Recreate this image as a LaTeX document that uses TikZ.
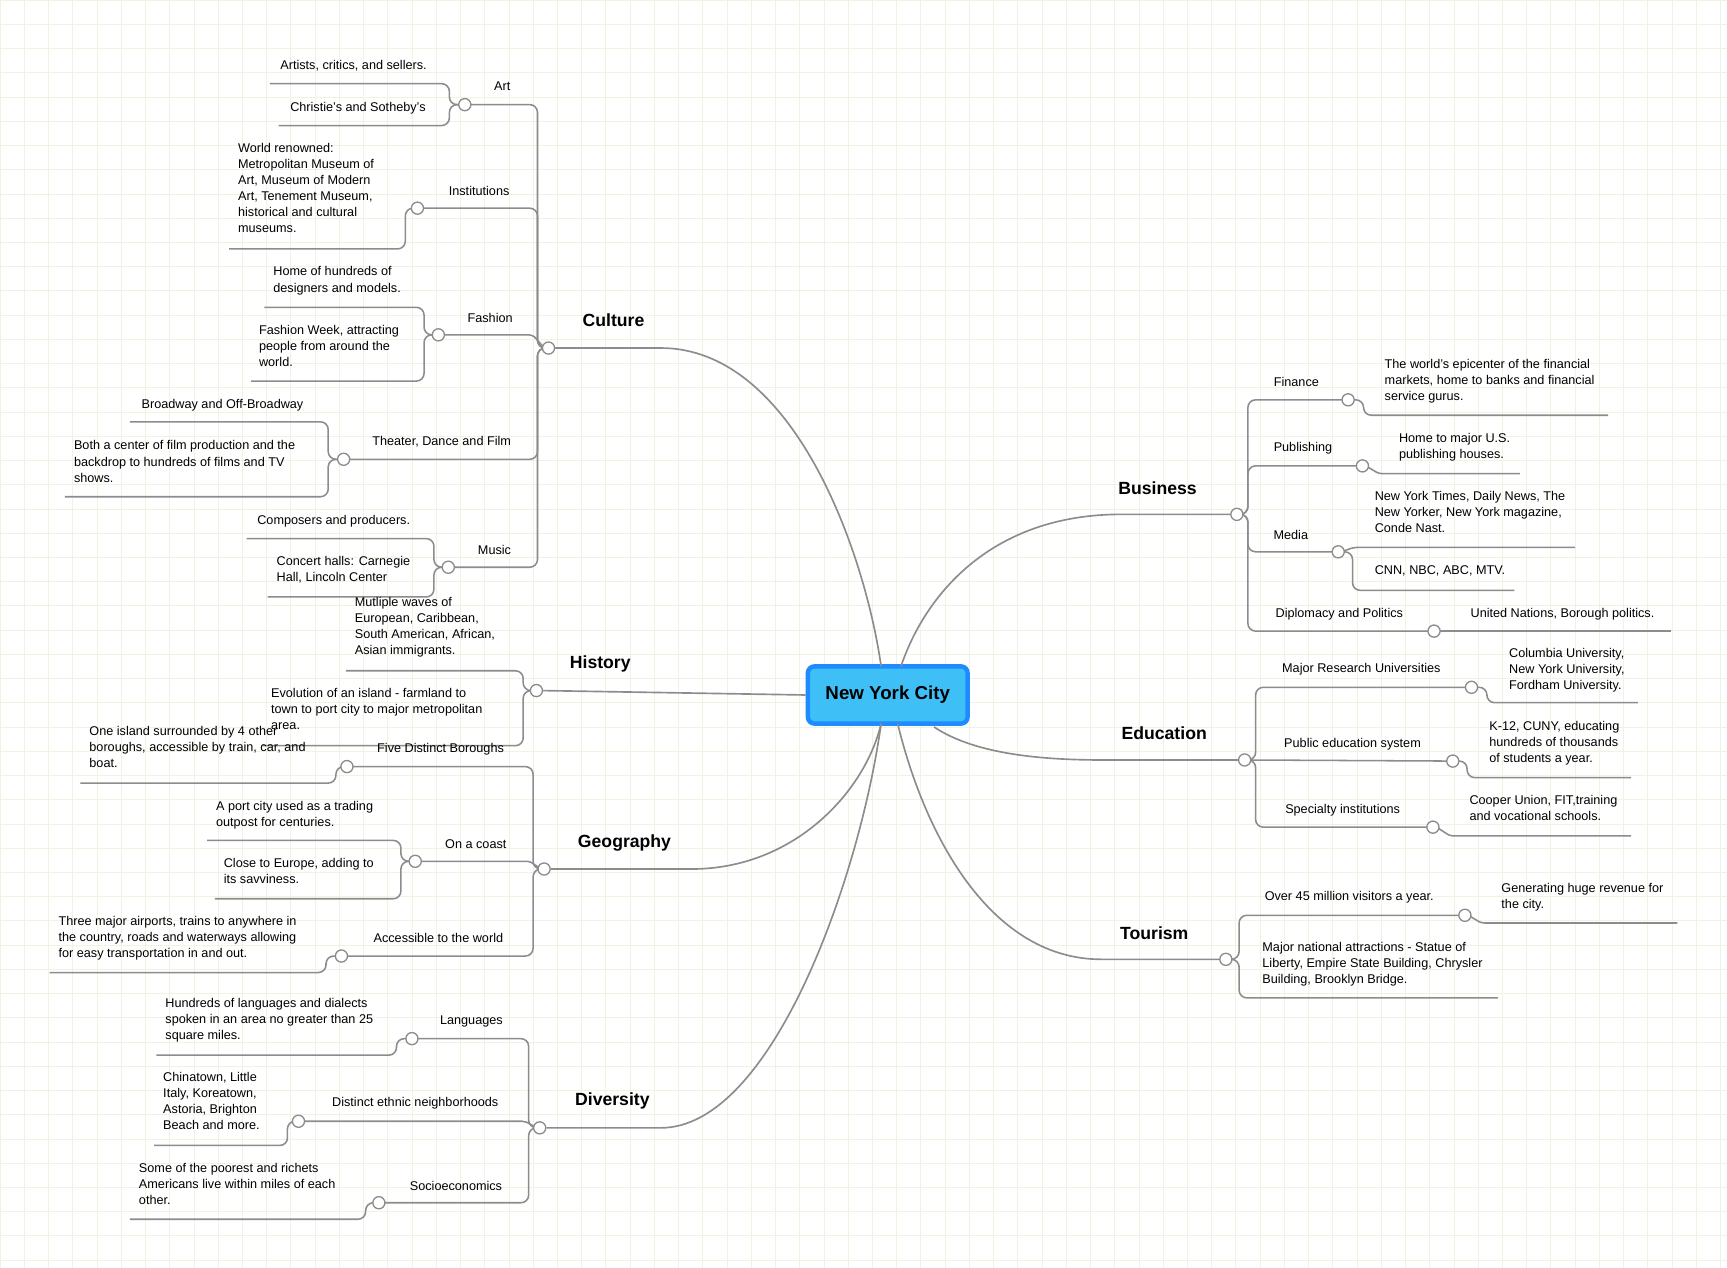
\documentclass[tikz,border=0pt]{standalone}
\usepackage{fontspec}
\setmainfont{Liberation Sans}
\definecolor{cgray}{HTML}{8C8C8C}
\definecolor{gridc}{HTML}{EEF3E2}
\definecolor{boxfill}{HTML}{3EC0F7}
\definecolor{boxdraw}{HTML}{1E8BFF}
\pgfdeclarelayer{bg}
\pgfsetlayers{bg,main}
\tikzset{
 conn/.style={draw=cgray,line width=1.4pt,rounded corners=7pt},
 sconn/.style={draw=cgray,line width=1.4pt},
 mconn/.style={draw=cgray,line width=1.5pt},
 dot/.style={circle,draw=cgray,fill=white,line width=1.2pt,minimum size=11pt,inner sep=0pt},
 lbl/.style={font=\fontsize{11.5}{14.6}\selectfont,inner sep=0pt},
 leaf/.style={lbl,align=left,anchor=north west},
 mainlbl/.style={font=\fontsize{16}{19}\selectfont\bfseries,inner sep=0pt}
}
\newcommand{\Lbr}[4]{\begin{pgfonlayer}{bg}\draw[conn] (#1.center) -| (#2,#3) -- (#4,#3);\end{pgfonlayer}}
\newcommand{\Lbn}[4]{\begin{pgfonlayer}{bg}\draw[conn] (#1.center) -| (#2,#3) -- (#4.center);\end{pgfonlayer}}
% smooth S-curve variants for small offsets: #5 out angle, #6 in angle
\newcommand{\Sbr}[6]{\begin{pgfonlayer}{bg}\draw[sconn] (#1.center) to[out=#5,in=#6] (#2,#3) -- (#4,#3);\end{pgfonlayer}}
\newcommand{\Sbn}[6]{\begin{pgfonlayer}{bg}\draw[sconn] (#1.center) to[out=#5,in=#6] (#2,#3) -- (#4.center);\end{pgfonlayer}}
\begin{document}
\begin{tikzpicture}[x=1pt,y=-1pt]
\useasboundingbox (0,0) rectangle (1568,1151);
\begin{pgfonlayer}{bg}
\fill[white] (0,0) rectangle (1568,1151);
\foreach \i in {0,22,...,1568} \draw[gridc,line width=0.6pt] (\i,0) -- (\i,1151);
\foreach \j in {0,22,...,1151} \draw[gridc,line width=0.6pt] (0,\j) -- (1568,\j);
\end{pgfonlayer}

\node[draw=boxdraw,fill=boxfill,line width=4pt,rounded corners=6pt,minimum width=145pt,minimum height=52pt,font=\fontsize{17}{20}\selectfont\bfseries] (nyc) at (806,631) {New York City};

% ---------- Culture
\node[mainlbl] (cult) at (557,291) {Culture};
\node[dot] (hc) at (498,316) {};
\draw[mconn] (hc.east) -- (600,316) .. controls (720,316) and (785,500) .. (800,605);
\node[dot] (cart) at (422,95) {};
\node[lbl] (tart) at (456,78) {Art};
\Lbn{hc}{488}{95}{cart}
\node[lbl] (t1) at (321,60) {Artists, critics, and sellers.};
\Lbr{cart}{408}{76}{245}
\node[lbl] (t2) at (325,98) {Christie's and Sotheby's};
\Lbr{cart}{408}{114}{253}
\node[dot] (cins) at (379,189) {};
\node[lbl] (tins) at (435,173) {Institutions};
\Lbn{hc}{488}{189}{cins}
\node[leaf] (t3) at (216,130) {World renowned:\\Metropolitan Museum of\\Art, Museum of Modern\\Art, Tenement Museum,\\historical and cultural\\museums.};
\Lbr{cins}{368}{226}{208}
\node[dot] (cfas) at (398,304) {};
\node[lbl] (tfas) at (445,289) {Fashion};
\Sbn{hc}{480}{304}{cfas}{180}{0}
\node[leaf] (t4) at (248,242) {Home of hundreds of\\designers and models.};
\Lbr{cfas}{385}{279}{240}
\node[leaf] (t5) at (235,295) {Fashion Week, attracting\\people from around the\\world.};
\Lbr{cfas}{385}{346}{228}
\node[dot] (cthe) at (312,417) {};
\node[lbl] (tthe) at (401,401) {Theater, Dance and Film};
\Lbn{hc}{488}{417}{cthe}
\node[lbl] (t6) at (202,368) {Broadway and Off-Broadway};
\Lbr{cthe}{298}{383}{118}
\node[leaf] (t7) at (67,400) {Both a center of film production and the\\backdrop to hundreds of films and TV\\shows.};
\Lbr{cthe}{298}{451}{59}
\node[dot] (cmus) at (407,515) {};
\node[lbl] (tmus) at (449,499) {Music};
\Lbn{hc}{488}{515}{cmus}
\node[lbl] (t8) at (303,473) {Composers and producers.};
\Lbr{cmus}{394}{489}{224}
\node[leaf] (t9) at (251,505) {Concert halls: Carnegie\\Hall, Lincoln Center};
\Lbr{cmus}{394}{542}{243}

% ---------- History
\node[mainlbl] (hist) at (545,603) {History};
\node[dot] (hh) at (487,627) {};
\draw[mconn] (hh.east) -- (nyc.west);
\node[leaf] (t10) at (322,542) {Mutliple waves of\\European, Caribbean,\\South American, African,\\Asian immigrants.};
\Lbr{hh}{475}{609}{314}
\node[leaf] (t11) at (246,625) {Evolution of an island - farmland to\\town to port city to major metropolitan\\area.};
\Lbr{hh}{475}{677}{238}

% ---------- Geography
\node[mainlbl] (geo) at (567,765) {Geography};
\node[dot] (hg) at (494,789) {};
\draw[mconn] (hg.east) -- (628,789) .. controls (720,789) and (785,720) .. (800,657);
\node[dot] (cfive) at (315,696) {};
\node[lbl] (tfive) at (400,680) {Five Distinct Boroughs};
\Lbn{hg}{484}{696}{cfive}
\node[leaf] (t12) at (81,659) {One island surrounded by 4 other\\boroughs, accessible by train, car, and\\boat.};
\Lbr{cfive}{305}{711}{73}
\node[dot] (ccoa) at (377,782) {};
\node[lbl] (tcoa) at (432,766) {On a coast};
\Sbn{hg}{478}{782}{ccoa}{180}{0}
\node[leaf] (t13) at (196,727) {A port city used as a trading\\outpost for centuries.};
\Lbr{ccoa}{364}{763}{188}
\node[leaf] (t14) at (203,779) {Close to Europe, adding to\\its savviness.};
\Lbr{ccoa}{364}{816}{195}
\node[dot] (cacc) at (310,868) {};
\node[lbl] (tacc) at (398,852) {Accessible to the world};
\Lbn{hg}{484}{868}{cacc}
\node[leaf] (t15) at (53,832) {Three major airports, trains to anywhere in\\the country, roads and waterways allowing\\for easy transportation in and out.};
\Lbr{cacc}{296}{883}{45}

% ---------- Diversity
\node[mainlbl] (div) at (556,1000) {Diversity};
\node[dot] (hd) at (490,1024) {};
\draw[mconn] (hd.east) -- (600,1024) .. controls (700,1024) and (780,800) .. (800,657);
\node[dot] (clan) at (374,943) {};
\node[lbl] (tlan) at (428,927) {Languages};
\Lbn{hd}{480}{943}{clan}
\node[leaf] (t16) at (150,906) {Hundreds of languages and dialects\\spoken in an area no greater than 25\\square miles.};
\Lbr{clan}{360}{958}{142}
\node[dot] (ceth) at (271,1018) {};
\node[lbl] (teth) at (377,1002) {Distinct ethnic neighborhoods};
\Sbn{hd}{474}{1018}{ceth}{180}{0}
\node[leaf] (t17) at (148,973) {Chinatown, Little\\Italy, Koreatown,\\Astoria, Brighton\\Beach and more.};
\Lbr{ceth}{261}{1040}{140}
\node[dot] (csoc) at (344,1092) {};
\node[lbl] (tsoc) at (414,1077) {Socioeconomics};
\Lbn{hd}{480}{1092}{csoc}
\node[leaf] (t18) at (126,1056) {Some of the poorest and richets\\Americans live within miles of each\\other.};
\Lbr{csoc}{332}{1107}{118}

% ---------- Business
\node[mainlbl] (bus) at (1051,443) {Business};
\node[dot] (hb) at (1123,467) {};
\draw[mconn] (hb.west) -- (1018,467) .. controls (900,467) and (840,540) .. (818,605);
\node[dot] (cfin) at (1224,363) {};
\node[lbl] (tfin) at (1177,347) {Finance};
\Lbn{hb}{1133}{363}{cfin}
\node[leaf] (t19) at (1257,326) {The world's epicenter of the financial\\markets, home to banks and financial\\service gurus.};
\Lbr{cfin}{1238}{377}{1460}
\node[dot] (cpub) at (1237,423) {};
\node[lbl] (tpub) at (1183,407) {Publishing};
\Lbn{hb}{1133}{423}{cpub}
\node[leaf] (t20) at (1270,393) {Home to major U.S.\\publishing houses.};
\Sbr{cpub}{1255}{430}{1380}{0}{180}
\node[dot] (cmed) at (1215,501) {};
\node[lbl] (tmed) at (1172,486) {Media};
\Lbn{hb}{1133}{501}{cmed}
\node[leaf] (t21) at (1248,446) {New York Times, Daily News, The\\New Yorker, New York magazine,\\Conde Nast.};
\Sbr{cmed}{1232}{497}{1430}{0}{180}
\node[leaf] (t22) at (1248,513) {CNN, NBC, ABC, MTV.};
\Lbr{cmed}{1228}{536}{1375}
\node[dot] (cdip) at (1302,573) {};
\node[lbl] (tdip) at (1216,558) {Diplomacy and Politics};
\Lbn{hb}{1133}{573}{cdip}
\node[leaf] (t23) at (1335,552) {United Nations, Borough politics.};
\begin{pgfonlayer}{bg}\draw[sconn] (cdip.center) -- (1517,573);\end{pgfonlayer}

% ---------- Education
\node[mainlbl] (edu) at (1057,666) {Education};
\node[dot] (he) at (1130,690) {};
\draw[mconn] (he.west) -- (1000,690) .. controls (920,690) and (875,678) .. (848,660);
\node[dot] (cmru) at (1336,624) {};
\node[lbl] (tmru) at (1236,608) {Major Research Universities};
\Lbn{he}{1140}{624}{cmru}
\node[leaf] (t24) at (1370,588) {Columbia University,\\New York University,\\Fordham University.};
\Lbr{cmru}{1350}{638}{1487}
\node[dot] (cpes) at (1319,691) {};
\node[lbl] (tpes) at (1228,676) {Public education system};
\begin{pgfonlayer}{bg}\draw[sconn] (he.center) -- (cpes.center);\end{pgfonlayer}
\node[leaf] (t25) at (1352,655) {K-12, CUNY, educating\\hundreds of thousands\\of students a year.};
\Lbr{cpes}{1332}{706}{1481}
\node[dot] (cspe) at (1301,751) {};
\node[lbl] (tspe) at (1219,736) {Specialty institutions};
\Lbn{he}{1140}{751}{cspe}
\node[leaf] (t26) at (1334,722) {Cooper Union, FIT,training\\and vocational schools.};
\Sbr{cspe}{1320}{759}{1481}{0}{180}

% ---------- Tourism
\node[mainlbl] (tou) at (1048,847) {Tourism};
\node[dot] (ht) at (1113,871) {};
\draw[mconn] (ht.west) -- (1000,871) .. controls (900,871) and (840,760) .. (815,657);
\node[dot] (cvis) at (1330,831) {};
\node[lbl] (tvis) at (1225,815) {Over 45 million visitors a year.};
\Lbn{ht}{1125}{831}{cvis}
\node[leaf] (t27) at (1363,802) {Generating huge revenue for\\the city.};
\Sbr{cvis}{1348}{838}{1523}{0}{180}
\node[leaf] (t28) at (1146,855) {Major national attractions - Statue of\\Liberty, Empire State Building, Chrysler\\Building, Brooklyn Bridge.};
\Lbr{ht}{1125}{906}{1360}
\end{tikzpicture}
\end{document}
